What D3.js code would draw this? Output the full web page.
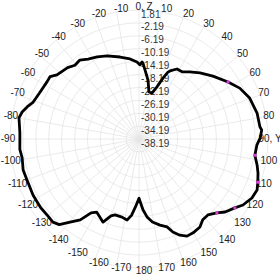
<!DOCTYPE html>
<html>
<head>
<meta charset="utf-8">
<script src="https://cdn.jsdelivr.net/npm/d3@7"></script>
<style>
  html, body { margin: 0; padding: 0; background: #fff; }
  #chart { width: 280px; height: 280px; }
</style>
</head>
<body>
<div id="chart"></div>
<script>
// radiation pattern, gain in dB vs angle (0 = Z at top, 90 = Y at right)
const angleDeg = [-177, -174.4, -171.6, -167.7, -162.5, -160, -156.6, -153, -150, -147, -144, -140, -137, -134, -130, -125, -118, -110, -105, -99, -95, -87, -80, -77, -74, -71, -65, -58, -55, -52, -45, -41, -37, -32.5, -27, -21, -13, -6.4, -1.5, 0.8, 2.2, 3, 8.7, 12, 15.8, 19, 21.5, 23.4, 24.5, 28.5, 33, 37, 42.7, 49.6, 57.4, 63.2, 69.7, 77.6, 84.3, 85.8, 89.5, 93, 98, 102.4, 106, 110, 113.4, 117.6, 122.4, 125.7, 130.3, 133.5, 137.8, 141.7, 145.3, 150, 153.7, 157, 160, 162.3, 166.3, 170.8, 174.1, 176.8, 180];
const gainDb = [-17.1, -14.4, -12.8, -13.4, -13.5, -12.8, -10.1, -11.2, -12.0, -10.9, -7.2, -4.4, -1.9, -1.1, -1.2, -1.0, -1.0, -1.2, -1.0, -1.5, -1.1, -1.2, -0.4, -1.0, -2.1, -3.4, -4.2, -4.6, -4.5, -5.9, -6.9, -7.9, -7.6, -8.8, -9.6, -10.6, -12.1, -13.2, -14.3, -15.2, -14.3, -14.6, -19.7, -23.3, -23.4, -21.1, -17.9, -15.6, -15.0, -13.5, -13.4, -12.1, -10.3, -8.1, -5.4, -3.2, -1.6, -0.7, -0.5, -0.05, -0.6, -1.6, -1.9, -0.7, 0.2, 1.0, 1.7, 1.3, 0.0, -1.6, -3.2, -4.9, -6.4, -6.3, -5.0, -4.6, -4.6, -5.8, -7.5, -9.6, -10.7, -12.1, -13.9, -16.2, -19.8];

// highlighted samples (magenta)
const markerAngles = [57.4, 98, 110, 125.7, 133.5];

const radialTicks = [-38.19, -34.19, -30.19, -26.19, -22.19, -18.19, -14.19, -10.19, -6.19, -2.19, 1.81];
const angleTicks = d3.range(-170, 181, 10);
const angleLabel = (a) => (a === 0 ? "0, Z" : a === 90 ? "90, Y" : String(a));

const size = { width: 280, height: 280 };
const cx = 139, cy = 139, outerR = 129;

const svg = d3.select("#chart").append("svg")
  .attr("width", size.width)
  .attr("height", size.height)
  .style("font-family", "'Liberation Sans', Arial, sans-serif");

const r = d3.scaleLinear().domain([-38.19, 1.81]).range([0, outerR]);
const rad = (d) => (d * Math.PI) / 180;

const g = svg.append("g").attr("transform", `translate(${cx},${cy})`);

// grid
const grid = g.append("g").attr("stroke", "#e4e4e4").attr("fill", "none").attr("stroke-width", 0.8);
radialTicks.slice(1).forEach((t) => {
  grid.append("circle").attr("r", r(t));
});
d3.range(0, 360, 10).forEach((a) => {
  grid.append("line")
    .attr("x1", 0).attr("y1", 0)
    .attr("x2", outerR * Math.sin(rad(a)))
    .attr("y2", -outerR * Math.cos(rad(a)));
});

// radial tick labels along the upward axis
g.append("g").selectAll("text")
  .data(radialTicks)
  .join("text")
  .attr("x", 2)
  .attr("y", (d) => -r(d) + 4)
  .attr("dominant-baseline", "central")
  .attr("font-size", 10)
  .attr("fill", "#333")
  .text((d) => d.toFixed(2));

// angle labels
g.append("g").selectAll("text")
  .data(angleTicks)
  .join("text")
  .attr("x", (a) => 131 * Math.sin(rad(a)) + 5 * Math.abs(Math.cos(rad(a))))
  .attr("y", (a) => -132 * Math.cos(rad(a)) - 1)
  .attr("text-anchor", "middle")
  .attr("dominant-baseline", "central")
  .attr("font-size", 10)
  .attr("fill", "#222")
  .text(angleLabel);

// pattern line
const data = angleDeg.map((a, i) => ({ a, v: gainDb[i] }));
const line = d3.lineRadial()
  .angle((d) => rad(d.a))
  .radius((d) => r(d.v))
  .curve(d3.curveLinearClosed);

g.append("path")
  .datum(data)
  .attr("d", line)
  .attr("fill", "none")
  .attr("stroke", "#000")
  .attr("stroke-width", 2.8)
  .attr("stroke-linejoin", "round");

// markers
const markers = data.filter((d) => markerAngles.includes(d.a));
g.append("g").selectAll("rect")
  .data(markers)
  .join("rect")
  .attr("x", (d) => r(d.v) * Math.sin(rad(d.a)) - 1.5)
  .attr("y", (d) => -r(d.v) * Math.cos(rad(d.a)) - 1.5)
  .attr("width", 3)
  .attr("height", 3)
  .attr("fill", "#d63bd6");
</script>
</body>
</html>
